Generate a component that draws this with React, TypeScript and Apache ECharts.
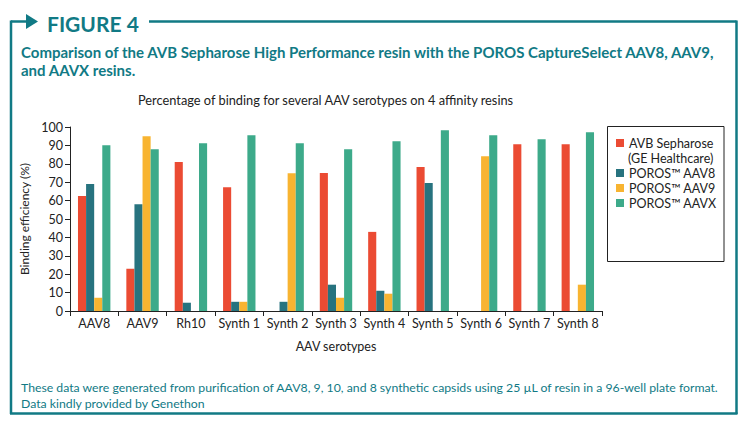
import React, { useEffect, useRef } from "react";
import * as echarts from "echarts";

const categories = ["AAV8", "AAV9", "Rh10", "Synth 1", "Synth 2", "Synth 3", "Synth 4", "Synth 5", "Synth 6", "Synth 7", "Synth 8"];
const avbSepharose = [62.5, 23, 81, 67.3, 0, 75, 43, 78.2, 0, 90.6, 90.6];
const porosAAV8 = [69, 58, 4.5, 5, 5, 14.3, 11, 69.5, 0, 0, 0];
const porosAAV9 = [7.2, 95, 0, 5, 74.9, 7.2, 9.4, 0, 84.1, 0, 14.3];
const porosAAVX = [90.1, 87.9, 91.2, 95.5, 91.2, 87.9, 92.2, 98.2, 95.5, 93.3, 97.1];
const seriesNames = ["AVB Sepharose (GE Healthcare)", "POROS™ AAV8", "POROS™ AAV9", "POROS™ AAVX"];
const colors = ["#EB4B33", "#27737F", "#F8B431", "#3DAA8A"];

const TEAL = "#117A85";
const FONT = "Lato";

export default function App() {
  const ref = useRef<HTMLDivElement>(null);
  useEffect(() => {
    if (!ref.current) return;
    const chart = echarts.init(ref.current, null, { renderer: "svg" });
    const data = [avbSepharose, porosAAV8, porosAAV9, porosAAVX];
    const legendText = { fontFamily: FONT, fontSize: 12.5, color: "#222", lineHeight: 14 };
    chart.setOption({
      animation: false,
      textStyle: { fontFamily: FONT },
      grid: { left: 70, right: 142, top: 127, bottom: 115 },
      legend: [
        {
          orient: "vertical", left: 616, top: 136, padding: 0, itemWidth: 8, itemHeight: 8, itemGap: 1, icon: "rect",
          textStyle: legendText, data: [seriesNames[0]], formatter: () => "AVB Sepharose",
        },
        {
          orient: "vertical", left: 616, top: 166, padding: 0, itemWidth: 8, itemHeight: 8, itemGap: 1, icon: "rect",
          textStyle: legendText, data: seriesNames.slice(1),
        },
      ],
      xAxis: {
        type: "category",
        data: categories,
        name: "AAV serotypes",
        nameLocation: "middle",
        nameGap: 29,
        nameTextStyle: { fontFamily: FONT, fontSize: 12.5, color: "#222" },
        axisLine: { lineStyle: { color: "#222", width: 1 } },
        axisTick: { show: true, length: 5, lineStyle: { color: "#222" } },
        axisLabel: { fontFamily: FONT, fontSize: 12.5, color: "#222", margin: 6, interval: 0 },
      },
      yAxis: {
        type: "value",
        min: 0,
        max: 100,
        interval: 10,
        name: "Binding efficiency (%)",
        nameLocation: "middle",
        nameGap: 34,
        nameTextStyle: { fontFamily: FONT, fontSize: 12, color: "#222" },
        axisLine: { show: true, lineStyle: { color: "#222", width: 1 } },
        axisTick: { show: true, length: 5, lineStyle: { color: "#222" } },
        axisLabel: { fontFamily: FONT, fontSize: 12.5, color: "#222", margin: 7 },
        splitLine: { show: false },
      },
      series: data.map((d, i) => ({
        name: seriesNames[i],
        type: "bar",
        data: d,
        barGap: "0%",
        barCategoryGap: "33%",
        itemStyle: { color: colors[i] },
      })),
      graphic: [
        { type: "line", shape: { x1: 11, y1: 21.5, x2: 27, y2: 21.5 }, style: { stroke: TEAL, lineWidth: 2.5 } },
        { type: "line", shape: { x1: 11, y1: 20.5, x2: 11, y2: 414 }, style: { stroke: TEAL, lineWidth: 2.5 } },
        { type: "polygon", shape: { points: [[26, 14], [38, 21.5], [26, 29]] }, style: { fill: TEAL } },
        { type: "text", x: 47, y: 23, style: { text: "FIGURE 4", fontFamily: FONT, fontWeight: "bold", fontSize: 21, fill: TEAL, verticalAlign: "middle" } },
        { type: "line", shape: { x1: 149, y1: 21.5, x2: 736.5, y2: 21.5 }, style: { stroke: TEAL, lineWidth: 2.5 } },
        { type: "line", shape: { x1: 736.5, y1: 20.5, x2: 736.5, y2: 414 }, style: { stroke: TEAL, lineWidth: 2.5 } },
        { type: "line", shape: { x1: 10, y1: 413.5, x2: 737.5, y2: 413.5 }, style: { stroke: TEAL, lineWidth: 2.5 } },
        {
          type: "text", x: 21, y: 61,
          style: {
            text: "Comparison of the AVB Sepharose High Performance resin with the POROS CaptureSelect AAV8, AAV9,\nand AAVX resins.",
            fontFamily: FONT, fontWeight: "bold", fontSize: 15, lineHeight: 17.5, fill: TEAL, verticalAlign: "middle",
          },
        },
        { type: "text", x: 138, y: 100, style: { text: "Percentage of binding for several AAV serotypes on 4 affinity resins", fontFamily: FONT, fontSize: 12.8, fill: "#222", verticalAlign: "middle" } },
        { type: "text", x: 628, y: 158, style: { text: "(GE Healthcare)", fontFamily: FONT, fontSize: 12.5, fill: "#222", verticalAlign: "middle" } },
        { type: "rect", shape: { x: 607.5, y: 126.5, width: 116.5, height: 135 }, style: { fill: "none", stroke: "#222", lineWidth: 1 } },
        {
          type: "text", x: 21, y: 379,
          style: {
            text: "These data were generated from purification of AAV8, 9, 10, and 8 synthetic capsids using 25 µL of resin in a 96-well plate format.\nData kindly provided by Genethon",
            fontFamily: FONT, fontSize: 12.25, lineHeight: 16.5, fill: TEAL,
          },
        },
      ],
    });
    return () => chart.dispose();
  }, []);
  return <div ref={ref} style={{ width: 744, height: 426, position: "absolute", left: 0, top: 0, background: "#fff" }} />;
}
